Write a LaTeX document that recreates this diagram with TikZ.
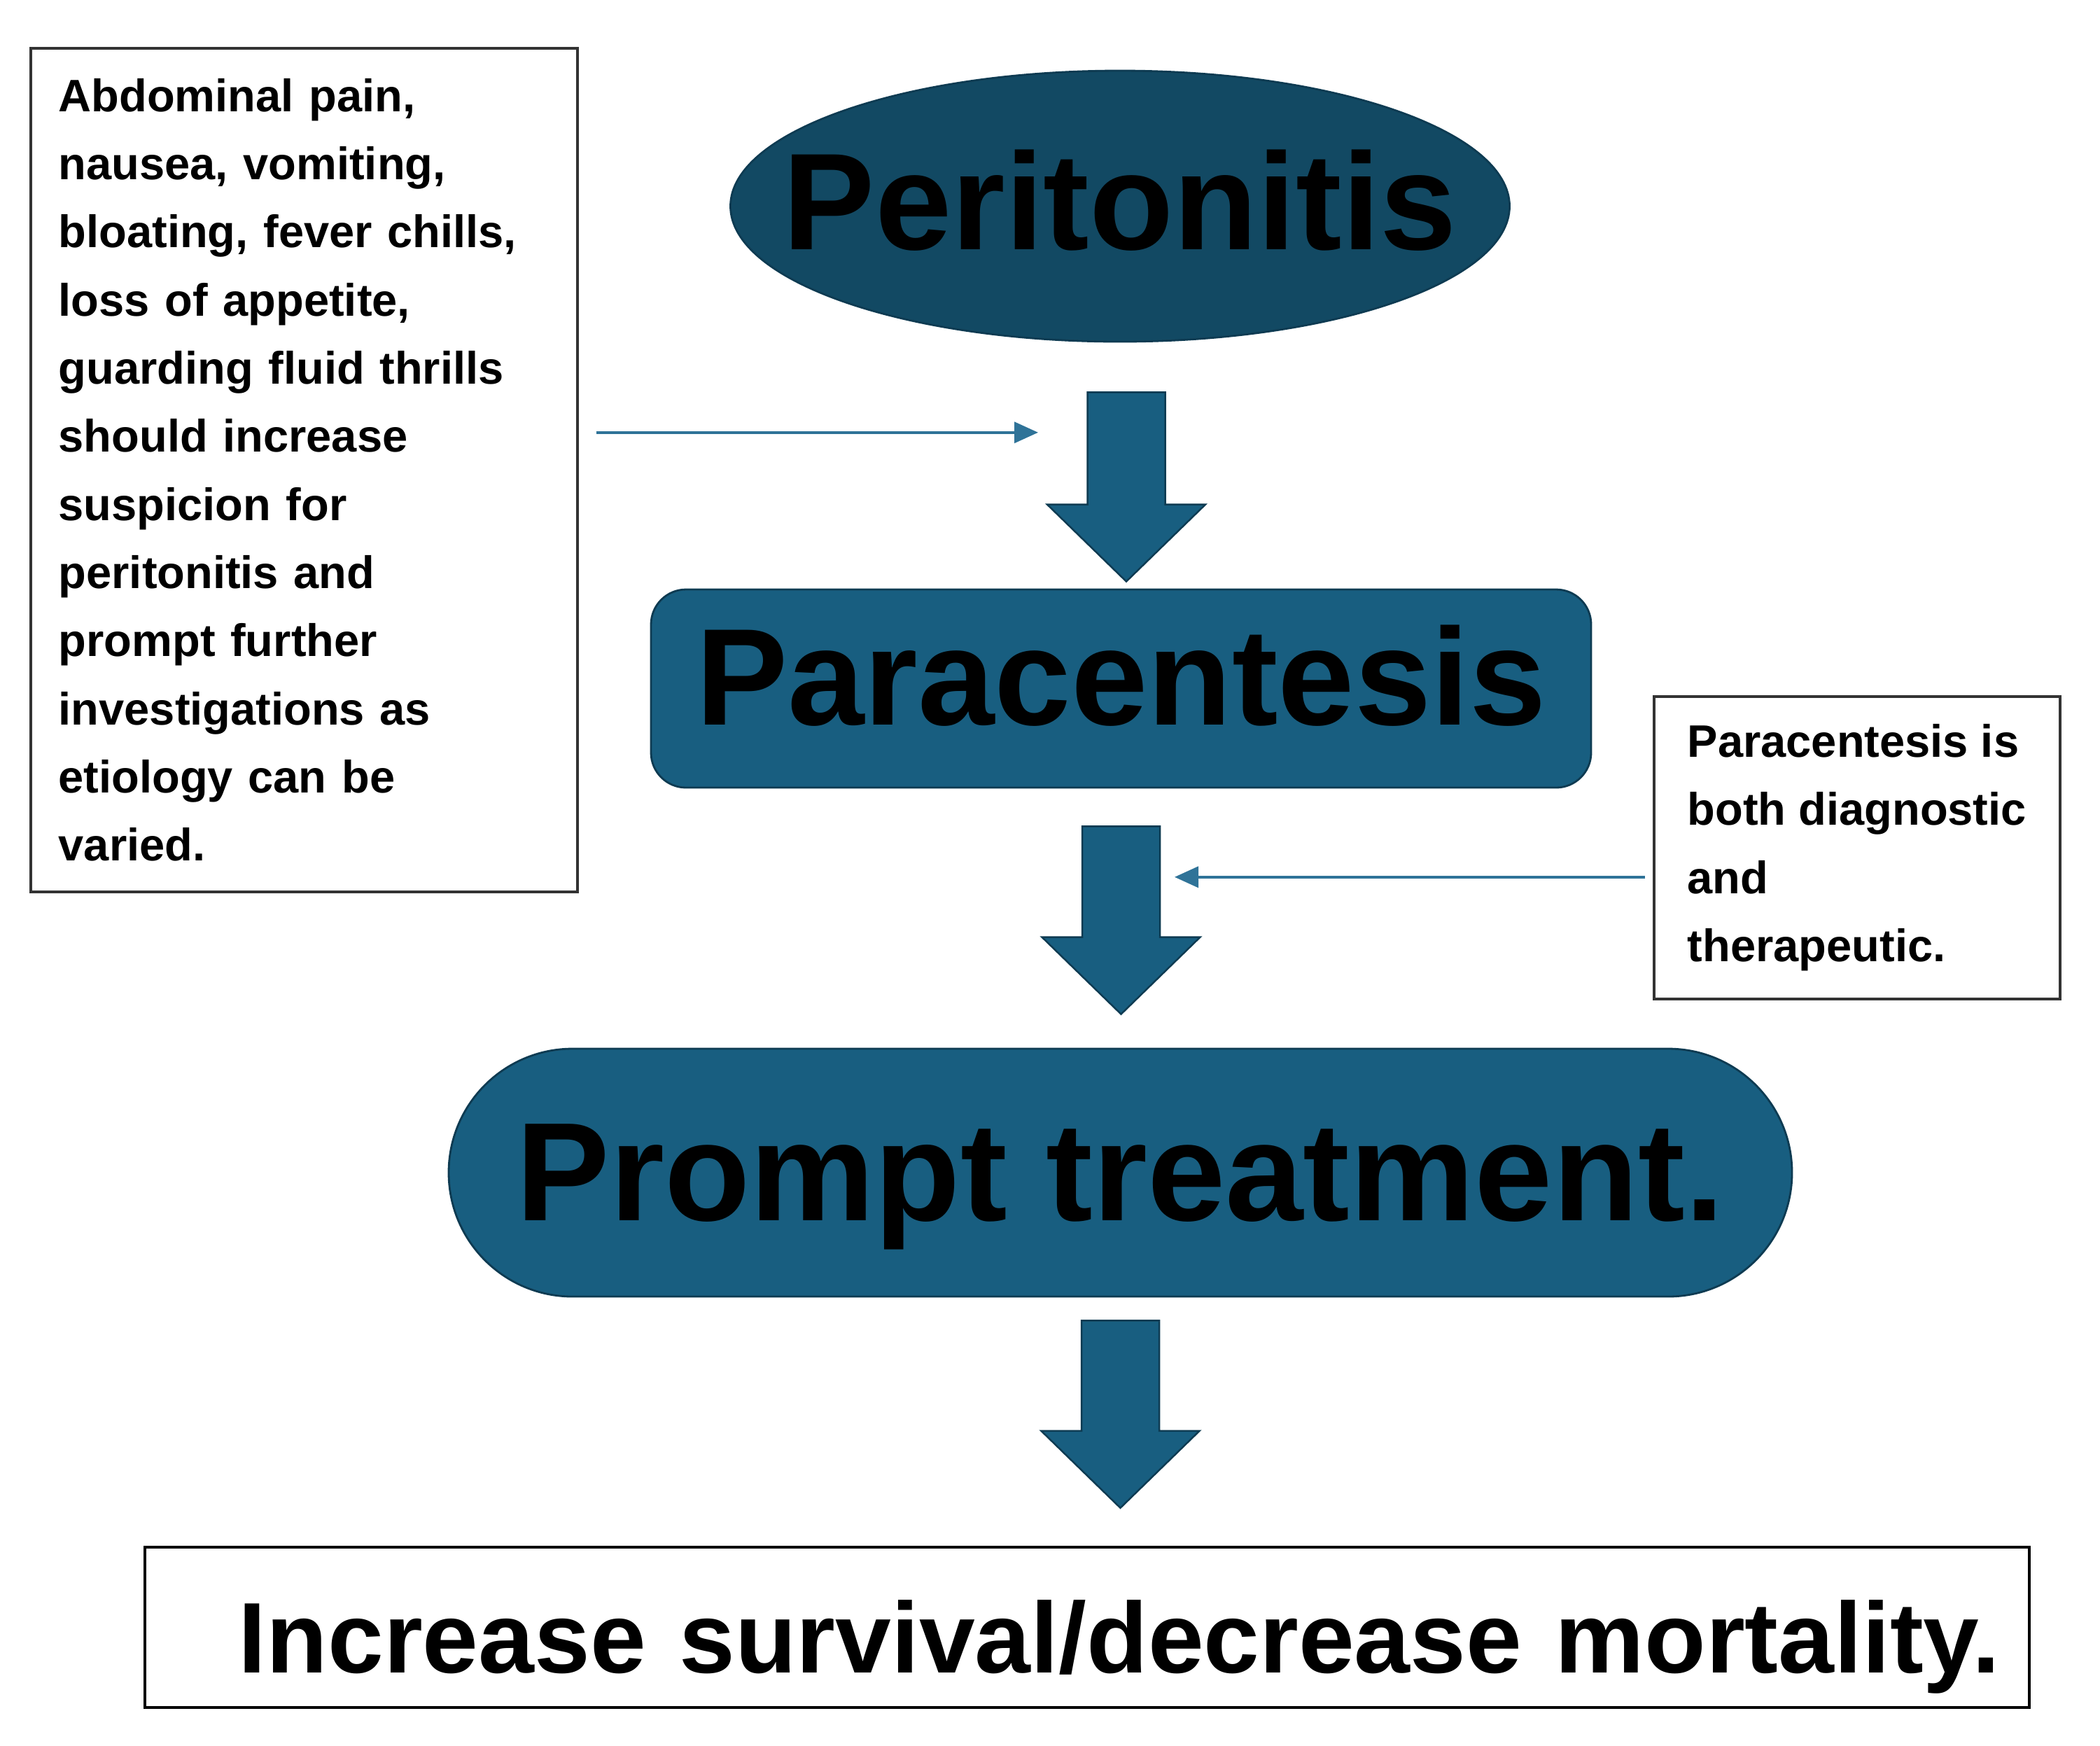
\documentclass[tikz,border=0pt]{standalone}
\usepackage{fontspec}
\setmainfont{Liberation Sans}
\usetikzlibrary{shapes.geometric,calc,arrows.meta}

\definecolor{darkteal}{HTML}{124963}
\definecolor{blockblue}{HTML}{185E80}
\definecolor{rimblue}{HTML}{0E3B52}
\definecolor{pointerblue}{HTML}{2F7398}

\begin{document}
\begin{tikzpicture}[
    bignode/.style={draw=rimblue, line width=0.8pt, text=black, inner sep=0pt, text depth=0pt,
      font=\bfseries\fontsize{56}{60}\selectfont},
    notebox/.style={draw=black!80, line width=1pt, align=left, inner ysep=0pt,
      font=\bfseries\fontsize{18.5}{27.7}\selectfont},
    pointer/.style={-{Triangle[length=0.34cm,width=0.3cm]}, draw=pointerblue, line width=1pt},
    blockarrow/.style={fill=blockblue, draw=rimblue, line width=0.7pt,
      to path={($(\tikztostart)+(-0.555,0)$) -- ($(\tikztostart)+(0.555,0)$)
        -- ($(\tikztotarget)+(0.555,1.10)$) -- ($(\tikztotarget)+(1.13,1.10)$)
        -- (\tikztotarget) -- ($(\tikztotarget)+(-1.13,1.10)$)
        -- ($(\tikztotarget)+(-0.555,1.10)$) -- cycle}}
  ]
    \useasboundingbox (0,0) rectangle (30,-24.93);

    % Nodes
    \node[bignode, ellipse, fill=darkteal, minimum width=11.13cm, minimum height=3.87cm, text height=1.23cm] (peri) at (16.00,-2.945) {\makebox[0pt]{Peritonitis}};
    \node[bignode, rectangle, rounded corners=0.5cm, fill=blockblue, minimum width=13.43cm, minimum height=2.83cm, text height=1.03cm] (para) at (16.015,-9.835) {Paracentesis};
    \node[bignode, rectangle, rounded corners=1.77cm, fill=blockblue, minimum width=19.19cm, minimum height=3.54cm, text height=1.375cm,
      font=\bfseries\fontsize{57}{60}\selectfont] (treat) at (16.005,-16.75) {Prompt treatment.};
    \node[draw=black, line width=1.2pt, font=\bfseries\fontsize{40.8}{44}\selectfont, align=right, text height=1.30cm, text depth=0pt,
      text width=26.08cm, inner xsep=0.42cm, inner ysep=0pt, minimum height=2.29cm] (outcome) at (15.53,-23.245) {Increase survival/decrease mortality.};
    \node[notebox, text width=7.01cm, inner xsep=0.40cm, minimum height=12.05cm, anchor=north west] (symp) at (0.42,-0.67)
      {Abdominal pain,\\nausea, vomiting,\\bloating, fever chills,\\loss of appetite,\\guarding fluid thrills\\should increase\\suspicion for\\peritonitis and\\prompt further\\investigations as\\etiology can be\\varied.};
    \node[notebox, minimum width=5.80cm, minimum height=4.32cm, anchor=north west] (note) at (23.61,-9.93)
      {Paracentesis is\\both diagnostic\\and\\therapeutic.};

    \coordinate (a1top) at ([xshift=0.09cm, yshift=-0.71cm]peri.south);
    \coordinate (a1tip) at ($(para.north -| a1top)+(0,0.10)$);
    \coordinate (a2top) at ([yshift=-0.54cm]para.south);
    \coordinate (a2tip) at ($(treat.north -| a2top)+(0,0.48)$);
    \coordinate (a3top) at ([yshift=-0.33cm]treat.south);
    \coordinate (a3tip) at ($(outcome.north -| a3top)+(0,0.54)$);
    \coordinate (p1start) at ([xshift=0.25cm, yshift=0.535cm]symp.east);
    \coordinate (p2start) at ([xshift=-0.11cm, yshift=-0.42cm]note.west);

    % Edges
    \draw[blockarrow] (a1top) to (a1tip);
    \draw[blockarrow] (a2top) to (a2tip);
    \draw[blockarrow] (a3top) to (a3tip);
    \draw[pointer, shorten >=1.26cm] (p1start) -- (p1start -| a1top);
    \draw[pointer, shorten >=0.765cm] (p2start) -- (p2start -| a2top);

\end{tikzpicture}
\end{document}
